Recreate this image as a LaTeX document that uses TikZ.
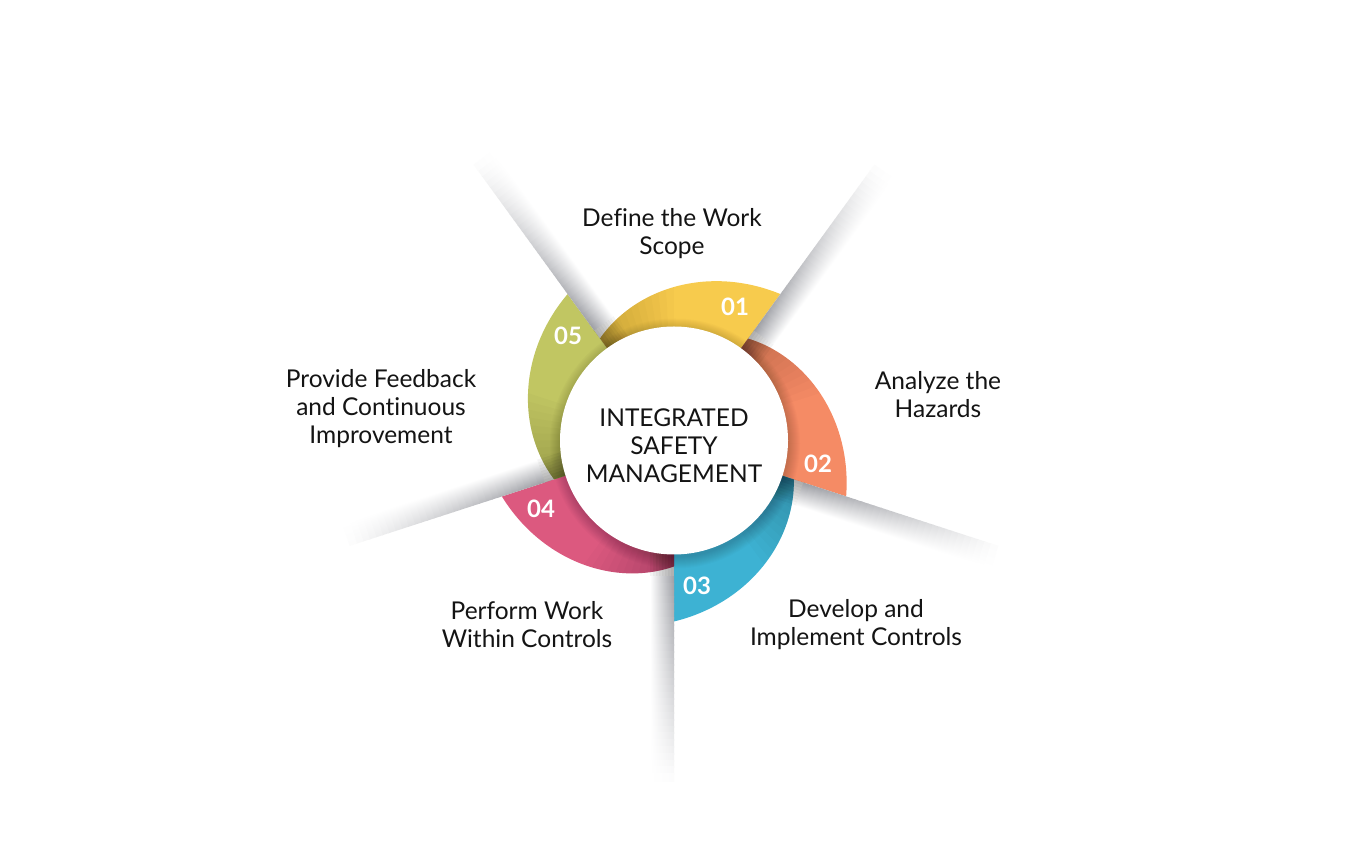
\documentclass[tikz,border=0pt]{standalone}
\usepackage{fontspec}
\setmainfont{Lato}[Ligatures=NoCommon]
\definecolor{cyel}{RGB}{247,203,77}
\definecolor{cora}{RGB}{245,139,101}
\definecolor{cblu}{RGB}{61,178,211}
\definecolor{cpin}{RGB}{220,89,127}
\definecolor{cgrn}{RGB}{193,198,98}
\definecolor{shd}{RGB}{120,122,130}
\begin{document}
\begin{tikzpicture}[x=1pt,y=1pt,
  lab/.style={font=\fontsize{24.5}{28}\selectfont, align=center, text=black!92, inner sep=0},
  num/.style={font=\fontsize{24}{26}\selectfont\bfseries, text=white, inner sep=0}]
\fill[white] (0,0) rectangle (1350,850);
\useasboundingbox (0,0) rectangle (1350,850);
\coordinate (C) at (674,409.5);
\begin{scope}[shift={(C)}]
  % bands
  \foreach \s/\c in {126/cyel,54/cora,-18/cblu,-90/cpin,198/cgrn}{
    \fill[\c] plot[domain=0:1,samples=50] ({\s-72*\x}:{126+55*\x})
      -- ({\s-72}:100) arc[start angle={\s-72}, end angle=\s, radius=100] -- cycle;
    \foreach \k in {3,6,...,36}{
      \pgfmathsetmacro\tt{\k/72}
      \fill[black, fill opacity=0.014] plot[domain=0:\tt,samples=12] ({\s-72*\x}:{126+55*\x})
        -- ({\s-\k}:100) arc[start angle={\s-\k}, end angle=\s, radius=100] -- cycle;
    }
  }
\end{scope}
% ray shadows
\foreach \a in {54,-18,-90,198,126}{
  \begin{scope}[transform canvas={shift={(674,409.5)}, rotate=\a}]
    \foreach \j in {1,...,8}{
      \fill[black, fill opacity=0.045] (110,0) rectangle (137,{-3*\j});
    }
    \foreach \i in {0,...,29}{
      \pgfmathsetmacro\d{72*(1-\i/30)}
      \pgfmathsetmacro\ra{136+6.8*\i}
      \pgfmathsetmacro\rb{\ra+7.8}
      \shade[top color=shd!\d!white, bottom color=white] (\ra,0) rectangle (\rb,-24);
    }
  \end{scope}
}
% hub shadow
\begin{scope}[shift={(C)}]
  \foreach \k in {1,...,12}{
    \fill[black, fill opacity=0.014] (1,-3) circle ({113+\k});
  }
\end{scope}
\node[circle, fill=white, minimum size=228pt, inner sep=0] (hub) at (C) {};
\node[lab] (hubtext) at (674,404) {INTEGRATED\\SAFETY\\MANAGEMENT};
% step labels
\node[lab] (t1) at (672,616) {Define the Work\\Scope};
\node[lab] (t2) at (938,455) {Analyze the\\Hazards};
\node[lab] (t3) at (856,225) {Develop and\\Implement Controls};
\node[lab] (t4) at (527,225) {Perform Work\\Within Controls};
\node[lab] (t5) at (381,441) {Provide Feedback\\and Continuous\\Improvement};
% numbers
\node[num] (n1) at (735,543) {01};
\node[num] (n2) at (818,386) {02};
\node[num] (n3) at (697,264) {03};
\node[num] (n4) at (541,341) {04};
\node[num] (n5) at (568,514) {05};
\end{tikzpicture}
\end{document}
